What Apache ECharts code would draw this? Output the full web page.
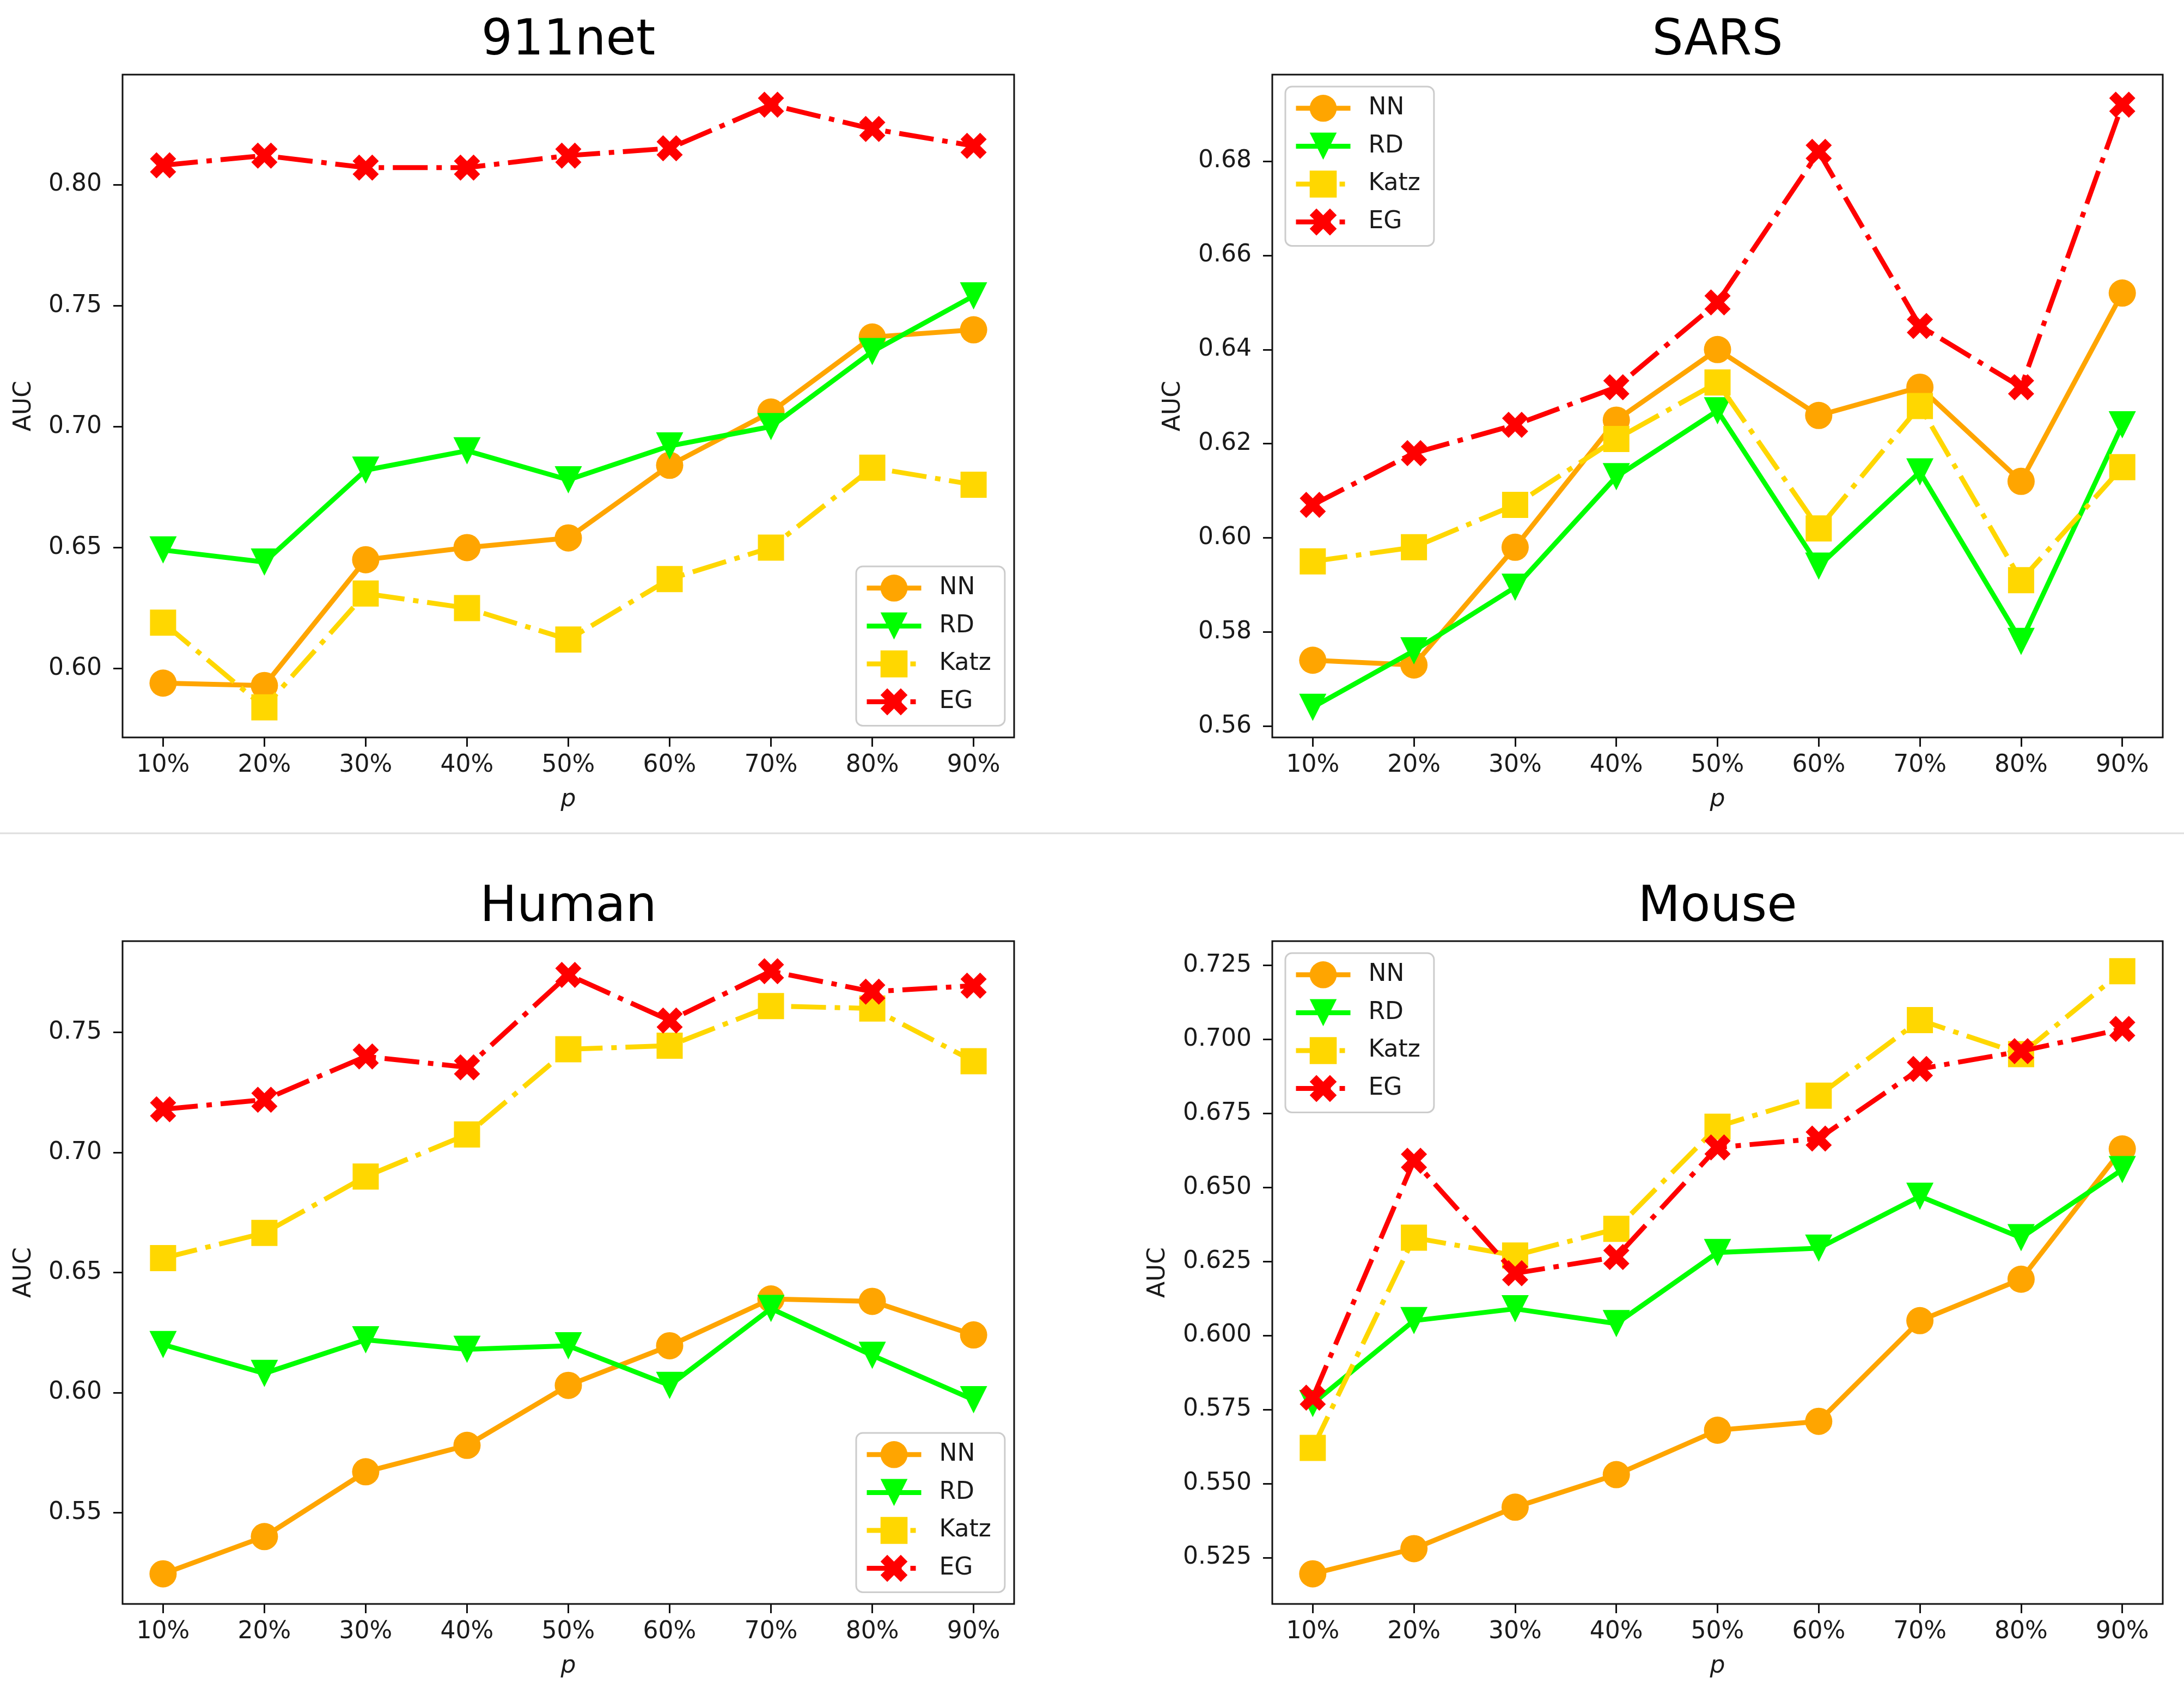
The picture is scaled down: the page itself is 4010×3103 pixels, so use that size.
<!DOCTYPE html>
<html>
<head>
<meta charset="utf-8">
<script src="https://cdn.jsdelivr.net/npm/echarts@6/dist/echarts.min.js"></script>
<style>
html,body{margin:0;padding:0;background:#fff;}
#chart{width:4010px;height:3103px;}
</style>
</head>
<body>
<div id="chart"></div>
<script>
// ---------- data ----------
const pLabels = ['10%','20%','30%','40%','50%','60%','70%','80%','90%'];
const methods = ['NN','RD','Katz','EG'];
const panelTitles = ['911net','SARS','Human','Mouse'];

const net911NN   = [0.594,0.593,0.645,0.650,0.654,0.684,0.706,0.737,0.740];
const net911RD   = [0.649,0.644,0.682,0.690,0.678,0.692,0.700,0.731,0.754];
const net911Katz = [0.619,0.584,0.631,0.625,0.612,0.637,0.650,0.683,0.676];
const net911EG   = [0.808,0.812,0.807,0.807,0.812,0.815,0.833,0.823,0.816];

const sarsNN   = [0.574,0.573,0.598,0.625,0.640,0.626,0.632,0.612,0.652];
const sarsRD   = [0.564,0.576,0.5895,0.613,0.627,0.594,0.614,0.578,0.624];
const sarsKatz = [0.595,0.598,0.607,0.621,0.633,0.602,0.628,0.591,0.615];
const sarsEG   = [0.607,0.618,0.624,0.632,0.650,0.682,0.645,0.632,0.692];

const humanNN   = [0.5245,0.540,0.567,0.578,0.603,0.6195,0.639,0.638,0.624];
const humanRD   = [0.620,0.608,0.622,0.618,0.6195,0.603,0.635,0.6155,0.597];
const humanKatz = [0.656,0.6665,0.690,0.7075,0.743,0.7445,0.761,0.760,0.738];
const humanEG   = [0.718,0.722,0.740,0.7355,0.774,0.755,0.7755,0.767,0.7695];

const mouseNN   = [0.5195,0.528,0.542,0.553,0.568,0.571,0.605,0.619,0.663];
const mouseRD   = [0.577,0.605,0.609,0.604,0.628,0.6295,0.647,0.633,0.656];
const mouseKatz = [0.562,0.633,0.627,0.636,0.6705,0.681,0.7065,0.695,0.723];
const mouseEG   = [0.579,0.659,0.621,0.6265,0.6635,0.6665,0.690,0.696,0.7035];

const net911YTicks = [0.60,0.65,0.70,0.75,0.80];
const sarsYTicks   = [0.56,0.58,0.60,0.62,0.64,0.66,0.68];
const humanYTicks  = [0.55,0.60,0.65,0.70,0.75];
const mouseYTicks  = [0.525,0.550,0.575,0.600,0.625,0.650,0.675,0.700,0.725];

// ---------- styling / layout ----------
const FONT = 'DejaVu Sans';
const TXT = '#1a1a1a';
const colors = {NN:'#FFA500', RD:'#00FF00', Katz:'#FFD700', EG:'#FF0000'};
const XPATH = 'path://M6 0 L8 2 L6 4 L8 6 L6 8 L4 6 L2 8 L0 6 L2 4 L0 2 L2 0 L4 2 Z';
const symbols = {NN:'circle', RD:'triangle', Katz:'rect', EG:XPATH};
const symSize = {NN:50, RD:50, Katz:48, EG:48};
const symRot = {NN:0, RD:180, Katz:0, EG:0};
const dashDot = [64,16,10,16];
const lineType = {NN:'solid', RD:'solid', Katz:dashDot, EG:dashDot};

const panels = [
  {data:[net911NN,net911RD,net911Katz,net911EG], ticks:net911YTicks, dec:2, grid:{left:225, top:137, width:1637, height:1217}, nameGap:158, legend:'br'},
  {data:[sarsNN,sarsRD,sarsKatz,sarsEG],         ticks:sarsYTicks,   dec:2, grid:{left:2336,top:137, width:1635, height:1217}, nameGap:159, legend:'tl'},
  {data:[humanNN,humanRD,humanKatz,humanEG],     ticks:humanYTicks,  dec:2, grid:{left:225, top:1728,width:1637, height:1217}, nameGap:158, legend:'br'},
  {data:[mouseNN,mouseRD,mouseKatz,mouseEG],     ticks:mouseYTicks,  dec:3, grid:{left:2336,top:1728,width:1635, height:1217}, nameGap:187, legend:'tl'}
];

const option = {
  backgroundColor:'#ffffff',
  animation:false,
  title:[], grid:[], xAxis:[], yAxis:[], legend:[], series:[],
  graphic:[{type:'line', shape:{x1:0,y1:1530,x2:4010,y2:1530}, style:{stroke:'#dedede', lineWidth:3}, silent:true}]
};

panels.forEach((pn, k) => {
  const g = pn.grid;
  option.grid.push({left:g.left, top:g.top, width:g.width, height:g.height, show:true,
    borderColor:'#111', borderWidth:3, backgroundColor:'#fff', containLabel:false, outerBoundsMode:'none'});
  option.title.push({text:panelTitles[k], left:g.left + g.width/2, top:g.top - 66 - 45 + 6, textAlign:'center', padding:0,
    textStyle:{fontFamily:FONT, fontSize:90, fontWeight:'normal', color:'#000', lineHeight:90}});
  let all = [].concat(...pn.data);
  let mn = Math.min(...all), mx = Math.max(...all), r = mx - mn;
  option.xAxis.push({type:'value', gridIndex:k, min:-0.4, max:8.4, position:'bottom',
    name:'p', nameLocation:'middle', nameGap:93,
    nameTextStyle:{fontFamily:FONT, fontSize:44, fontStyle:'italic', color:TXT},
    axisLine:{show:false, onZero:false}, splitLine:{show:false},
    axisTick:{show:true, customValues:[0,1,2,3,4,5,6,7,8], length:17, lineStyle:{color:'#111', width:3}},
    axisLabel:{show:true, customValues:[0,1,2,3,4,5,6,7,8], margin:30, fontFamily:FONT, fontSize:44, color:TXT,
      formatter:(v) => pLabels[Math.round(v)]}
  });
  option.yAxis.push({type:'value', gridIndex:k, min:mn - 0.05*r, max:mx + 0.05*r, position:'left',
    name:'AUC', nameLocation:'middle', nameGap:pn.nameGap,
    nameTextStyle:{fontFamily:FONT, fontSize:44, color:TXT},
    axisLine:{show:false, onZero:false}, splitLine:{show:false},
    axisTick:{show:true, customValues:pn.ticks, length:17, lineStyle:{color:'#111', width:3}},
    axisLabel:{show:true, customValues:pn.ticks, margin:38, fontFamily:FONT, fontSize:44, color:TXT,
      formatter:(v) => v.toFixed(pn.dec)}
  });
  const legendPos = pn.legend === 'br'
    ? {left:g.left + g.width - 24 - 266, top:g.top + g.height - 22 - 292}
    : {left:g.left + 24, top:g.top + 22};
  option.legend.push(Object.assign({
    data:methods, orient:'vertical', itemWidth:100, itemHeight:62, itemGap:20,
    padding:[15,25,19,15], backgroundColor:'rgba(255,255,255,0.8)', borderColor:'#cccccc', borderWidth:3, borderRadius:12,
    selectedMode:false, z:10,
    lineStyle:{width:9},
    textStyle:{fontFamily:FONT, fontSize:44, color:TXT, padding:[0,0,0,28]}
  }, legendPos));
  methods.forEach((m, j) => {
    option.series.push({
      name:m, type:'line', xAxisIndex:k, yAxisIndex:k,
      data:pn.data[j].map((v,i) => [i, v]),
      symbol:symbols[m], symbolSize:symSize[m], symbolRotate:symRot[m], showSymbol:true, showAllSymbol:true,
      lineStyle:{color:colors[m], width:9, type:lineType[m]},
      itemStyle:{color:colors[m], borderWidth:0},
      emphasis:{disabled:true}, z:2+j
    });
  });
});

const chart = echarts.init(document.getElementById('chart'), null, {renderer:'canvas', width:4010, height:3103});
chart.setOption(option);
</script>
</body>
</html>
